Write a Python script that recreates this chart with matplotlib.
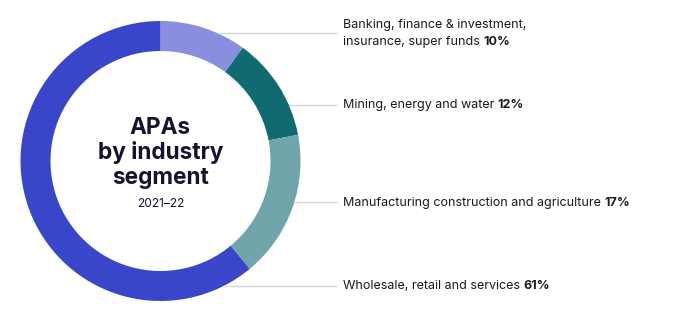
import matplotlib
matplotlib.use("Agg")
import matplotlib.pyplot as plt

# Share of APAs by industry segment, 2021–22
segments = [
    "Banking, finance & investment,\ninsurance, super funds",
    "Mining, energy and water",
    "Manufacturing construction and agriculture",
    "Wholesale, retail and services",
]
shares = [10, 12, 17, 61]
colors = ["#8a8edf", "#0f6b71", "#6fa5ab", "#3a46c9"]

W, H = 689, 323
fig = plt.figure(figsize=(W / 100, H / 100), dpi=100)
ax = fig.add_axes([0, 0, 1, 1])
ax.set_xlim(0, W)
ax.set_ylim(0, H)
ax.set_aspect("equal")
ax.axis("off")

cx, cy, R, ring = 160.5, H - 161, 140, 30
ax.pie(shares, colors=colors, startangle=90, counterclock=False,
       center=(cx, cy), radius=R, frame=True,
       wedgeprops=dict(width=ring, linewidth=0))
ax.set_xlim(0, W)
ax.set_ylim(0, H)
ax.axis("off")

# label rows (pixel y from top) with leader lines running out of the ring
label_y = [33, 105, 202, 286]
text_y = [33, 105, 203, 286]
line_end = 337
text_x = 343
fs = 9.05
txt_color = "#1b1b1b"
for name, val, ly, ty in zip(segments, shares, label_y, text_y):
    y = H - ly
    dy = abs(y - cy)
    x0 = cx + (R ** 2 - dy ** 2) ** 0.5
    ax.plot([x0, line_end], [y, y], color="#d6d6d6", lw=1, solid_capstyle="butt")
    lines = name.split("\n")
    if len(lines) == 2:
        ax.text(text_x, H - 25, lines[0], fontsize=fs, family="Inter",
                color=txt_color, va="center", ha="left")
        t = ax.text(text_x, H - 42, lines[1] + " ", fontsize=fs, family="Inter",
                    color=txt_color, va="center", ha="left")
    else:
        t = ax.text(text_x, H - ty, lines[0] + " ", fontsize=fs, family="Inter",
                    color=txt_color, va="center", ha="left")
    fig.canvas.draw()
    bb = t.get_window_extent().transformed(ax.transData.inverted())
    ax.text(bb.x1, t.get_position()[1], f"{val}%", fontsize=fs, family="Inter",
            weight="bold", color=txt_color, va="center", ha="left")

# centre title
title_color = "#1a1030"
for s, yy in zip(["APAs", "by industry", "segment"], [128, 153, 178]):
    ax.text(cx, H - yy, s, fontsize=16.3, family="Inter", weight="bold",
            color=title_color, ha="center", va="center")
ax.text(cx, H - 204, "2021–22", fontsize=8.6, family="Inter",
        color=title_color, ha="center", va="center")

fig.savefig("out.png", dpi=100)
